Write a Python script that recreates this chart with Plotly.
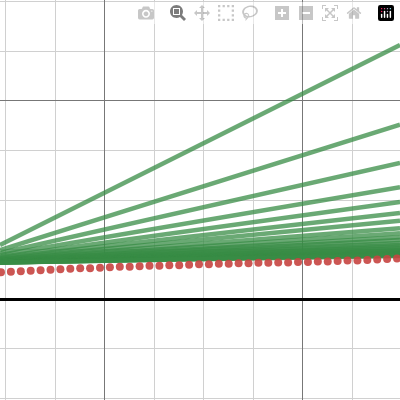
import plotly.graph_objects as go

# green lines: value at left edge (x=1.88) and right edge (x=9.96)
line_x = [1.88, 9.96]
line_start = [1.09, 0.99, 0.93, 0.89, 0.85, 0.83, 0.81, 0.80, 0.79, 0.78, 0.78, 0.77, 0.77,
              0.76, 0.76, 0.76, 0.75, 0.75, 0.75, 0.75, 0.74, 0.74, 0.74, 0.74, 0.74]
line_end = [5.13, 3.52, 2.75, 2.26, 1.96, 1.74, 1.58, 1.43, 1.33, 1.25, 1.19, 1.13, 1.09,
            1.05, 1.02, 0.99, 0.97, 0.95, 0.93, 0.92, 0.91, 0.90, 0.89, 0.88, 0.87]

# red points
pt_x = [1.9 + 0.2 * i for i in range(41)]
pt_y = [0.54, 0.55, 0.56, 0.57, 0.58, 0.59, 0.60, 0.61, 0.62, 0.62, 0.63, 0.64, 0.65,
        0.65, 0.66, 0.67, 0.67, 0.68, 0.68, 0.69, 0.70, 0.70, 0.71, 0.71, 0.72, 0.72,
        0.73, 0.73, 0.74, 0.74, 0.75, 0.75, 0.76, 0.76, 0.77, 0.78, 0.78, 0.79, 0.80,
        0.81, 0.82]

fig = go.Figure()
for s, e in zip(line_start, line_end):
    fig.add_trace(go.Scatter(x=line_x, y=[s, e], mode="lines",
                             line={"color": "rgba(56,140,70,0.75)", "width": 4.5},
                             showlegend=False))
fig.add_trace(go.Scatter(x=pt_x, y=pt_y, mode="markers",
                         marker={"color": "rgba(199,68,64,0.9)", "size": 8},
                         showlegend=False))

axis_common = dict(showticklabels=False, ticks="", dtick=4, tick0=0,
                   gridcolor="#777", gridwidth=1.2,
                   minor={"dtick": 1, "tick0": 0, "showgrid": True,
                          "gridcolor": "#d0d0d0", "gridwidth": 1},
                   showline=False)
fig.update_xaxes(range=[1.88, 9.96], zeroline=False, **axis_common)
fig.update_yaxes(range=[-2.04, 6.04], zeroline=True, zerolinecolor="#000",
                 zerolinewidth=3, **axis_common)
fig.update_layout(width=400, height=400, margin={"l": 0, "r": 0, "t": 0, "b": 0},
                  plot_bgcolor="white", paper_bgcolor="white")
fig.write_html("out.html", post_script="document.body.style.margin='0';")
